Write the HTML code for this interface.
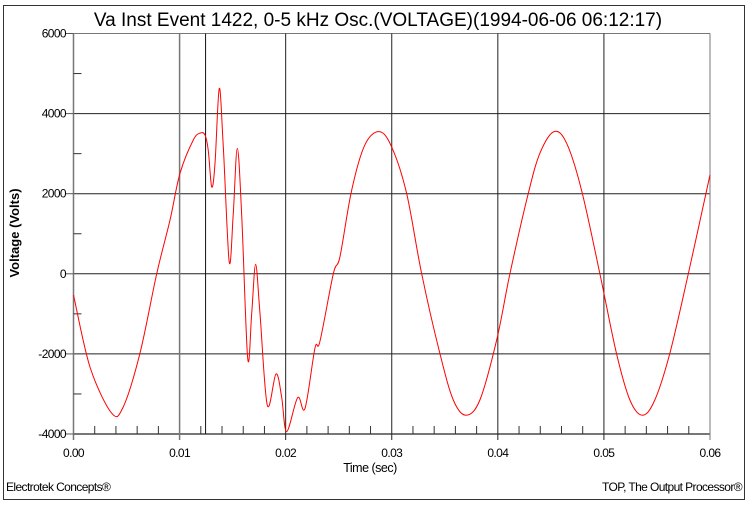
<!DOCTYPE html>
<html><head><meta charset="utf-8"><style>
body{margin:0;background:#fff;width:750px;height:504px;overflow:hidden;font-family:"Liberation Sans",sans-serif}
</style></head><body>
<svg width="750" height="504" xmlns="http://www.w3.org/2000/svg">
<rect x="3.5" y="5.5" width="741" height="494" fill="none" stroke="#333"/>
<text x="378" y="26" text-anchor="middle" font-size="19" fill="#000">Va Inst Event 1422, 0-5 kHz Osc.(VOLTAGE)(1994-06-06 06:12:17)</text>
<g id="grid"></g>
<g id="axes" font-size="12"></g>
<path id="series" fill="none" stroke="#f00" stroke-width="1"/>
<text x="370" y="472" text-anchor="middle" font-size="12.5" letter-spacing="-0.5">Time (sec)</text>
<text transform="translate(19,233) rotate(-90)" text-anchor="middle" font-size="13" font-weight="bold">Voltage (Volts)</text>
<text x="6" y="491" font-size="12" letter-spacing="-0.6">Electrotek Concepts®</text>
<text x="742" y="491" text-anchor="end" font-size="12" letter-spacing="-0.6">TOP, The Output Processor®</text>
</svg>
<script>
const xTicks=[0,0.01,0.02,0.03,0.04,0.05,0.06];
const xTickLabels=["0.00","0.01","0.02","0.03","0.04","0.05","0.06"];
const yTicks=[-4000,-2000,0,2000,4000,6000];
const yTickLabels=["-4000","-2000","0","2000","4000","6000"];
const timeMs=[0,1.56,3.60,4.69,6.27,7.84,9.10,10.04,11.29,11.92,12.39,12.70,13.03,13.34,13.74,14.12,14.68,15.06,15.44,15.85,16.42,16.80,17.17,17.58,18.27,19.09,19.62,20.09,21.13,21.82,22.76,23.23,24.49,25.12,26.22,27.47,28.82,29.99,31.40,32.82,34.54,35.80,36.99,38.31,39.89,41.14,42.87,43.97,45.29,46.48,47.89,49.62,51.19,52.45,53.64,54.80,56.21,57.95,60];
const volts=[-530,-2330,-3480,-3320,-1980,0,1340,2510,3340,3510,3470,3090,2170,2760,4630,3170,300,1510,3130,1510,-2110,-990,240,-990,-3280,-2500,-3070,-3940,-3090,-3360,-1860,-1690,0,430,2090,3220,3550,3170,2010,0,-1990,-3150,-3530,-3150,-1650,0,2010,3010,3550,3260,2090,0,-1990,-3150,-3530,-3150,-1990,0,2470];
const X0=73.5,X1=710,Y0=434,Y1=33.5;
const xs=t=>X0+(t/0.06)*(X1-X0);
const ys=v=>Y0-(v+4000)/10000*(Y0-Y1);
const NS="http://www.w3.org/2000/svg";
function mk(tag,attrs,parent){const e=document.createElementNS(NS,tag);for(const k in attrs)e.setAttribute(k,attrs[k]);parent.appendChild(e);return e;}
const g=document.getElementById('grid'),a=document.getElementById('axes');
// horizontal grid
yTicks.forEach((v,i)=>{const l=mk('line',{x1:X0,x2:X1,y1:ys(v),y2:ys(v),stroke:(v===6000||v===-4000)?'#777':'#222','stroke-width':(v===-4000)?2:1},g);


const tx=mk('text',{x:66,y:ys(v)+4,'text-anchor':'end','letter-spacing':'-0.6'},a);tx.textContent=yTickLabels[i];


mk('line',{x1:66,x2:X0,y1:ys(v),y2:ys(v),stroke:'#555'},a);});
for(let v=-3000;v<6000;v+=2000){mk('line',{x1:X0,x2:X0+8,y1:ys(v),y2:ys(v),stroke:'#333'},a);}
// vertical grid
xTicks.forEach((t,i)=>{const l=mk('line',{x1:xs(t),x2:xs(t),y1:Y1,y2:Y0+6,stroke:(i===0||i===1||i===6)?'#777':'#222','stroke-width':(i===0||i===1)?1.5:1},g);


const tx=mk('text',{x:xs(t),y:Y0+23,'text-anchor':'middle','letter-spacing':'-0.6'},a);tx.textContent=xTickLabels[i];

});
const trig=mk('line',{x1:xs(0.01245),x2:xs(0.01245),y1:Y1,y2:Y0,stroke:'#111'},g);


for(let k=1;k<30;k++){if(k%5===0)continue;const t=k*0.002;mk('line',{x1:xs(t),x2:xs(t),y1:Y0-8,y2:Y0,stroke:'#333'},a);}
// series, Catmull-Rom
const P=timeMs.map((m,i)=>[xs(m/1000),ys(volts[i])]);
let d='M'+P[0][0].toFixed(1)+','+P[0][1].toFixed(1);
for(let i=0;i<P.length-1;i++){const p0=P[Math.max(0,i-1)],p1=P[i],p2=P[i+1],p3=P[Math.min(P.length-1,i+2)];
const c1=[p1[0]+(p2[0]-p0[0])/6,p1[1]+(p2[1]-p0[1])/6],c2=[p2[0]-(p3[0]-p1[0])/6,p2[1]-(p3[1]-p1[1])/6];
d+=`C${c1[0].toFixed(1)},${c1[1].toFixed(1)} ${c2[0].toFixed(1)},${c2[1].toFixed(1)} ${p2[0].toFixed(1)},${p2[1].toFixed(1)}`;}
document.getElementById('series').setAttribute('d',d);
</script>
</body></html>
